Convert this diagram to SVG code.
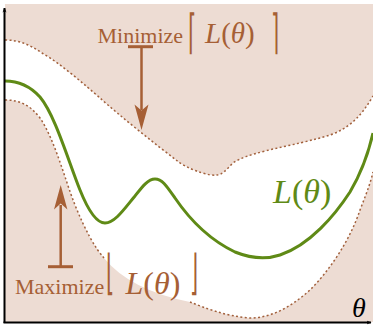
<svg xmlns="http://www.w3.org/2000/svg" width="373" height="329" viewBox="0 0 373 329">
<style>
.dot{fill:none;stroke:#a2603c;stroke-width:1.5;stroke-dasharray:2 2.4}
.lbl{fill:#a65f35;font-family:"Liberation Serif","Times New Roman",serif}
.it{font-style:italic}
.br{fill:#a65f35;font-family:"DejaVu Sans",sans-serif;font-size:30px;font-weight:200}
.arr{stroke:#a65f35;fill:none}
.head{fill:#a65f35}
.ax{stroke:#000;stroke-width:2;fill:none}
</style>
<defs>
<marker id="axhead" viewBox="0 0 10 10" refX="9" refY="5" markerWidth="5" markerHeight="5" orient="auto" markerUnits="userSpaceOnUse">
<path d="M0,1 L10,5 L0,9 L3,5 Z" fill="#000"/>
</marker>
</defs>
<rect width="373" height="329" fill="#fff"/>
<g id="band">
<rect x="5" y="4" width="368" height="318" fill="#eddcd3"/>
<path d="M5,40 C20,40 30,45 42,53 C60,63 85,85 100,98 C120,116 155,144 180,163 C195,172 210,176 217,175 C222,175 226,170 233,163 C240,158 250,155 265,151 C290,145 315,140 330,135 C350,128 362,115 373,96 L373,172 C370,185 365,197 360,210 C350,240 330,270 310,290 C290,308 270,318 250,318 C225,316 205,308 190,302 Q130,290 104,258 C95,248 85,230 75,205 C65,180 55,140 40,118 C30,105 20,100 5,100 Z" fill="#fff"/>
<path class="dot" d="M5,40 C20,40 30,45 42,53 C60,63 85,85 100,98 C120,116 155,144 180,163 C195,172 210,176 217,175 C222,175 226,170 233,163 C240,158 250,155 265,151 C290,145 315,140 330,135 C350,128 362,115 373,96"/>
<path class="dot" d="M5,100 C20,100 30,105 40,118 C55,140 65,180 75,205 C85,230 95,248 104,258"/>
<path class="dot" d="M190,302 C205,308 225,316 250,318 C270,318 290,308 310,290 C330,270 350,240 360,210 C365,197 370,185 373,172"/>
</g>
<g id="curve-L">
<path d="M5,81 C18,81 30,86 40,97 C55,115 68,160 80,190 C88,210 96,223 105,223 C115,223 125,208 135,196 C142,187 148,179 155,179 C162,179 166,185 175,198 C190,220 210,240 235,252 C250,258 265,260 280,255 C310,245 335,215 350,192 C360,175 368,155 373,133" fill="none" stroke="#5f8a16" stroke-width="3"/>
<text x="273" y="203" font-family="Liberation Serif,Times New Roman,serif" font-size="34" fill="#5f8a16"><tspan font-style="italic">L</tspan>(<tspan font-style="italic">θ</tspan>)</text>
</g>
<g id="label-min">
<text class="lbl" x="97.5" y="43.3" font-size="22">Minimize</text>
<text class="br" transform="translate(188,48) scale(0.7,1.55)">⌈</text>
<text class="lbl" x="205" y="43.3" font-size="29"><tspan class="it">L</tspan>(<tspan class="it">θ</tspan>)</text>
<text class="br" transform="translate(271,48) scale(0.7,1.55)">⌉</text>
</g>
<g id="label-max">
<text class="lbl" x="15" y="293.5" font-size="22">Maximize</text>
<text class="br" transform="translate(106,288.8) scale(0.7,1.6)">⌊</text>
<text class="lbl" x="125.5" y="293.5" font-size="32"><tspan class="it">L</tspan>(<tspan class="it">θ</tspan>)</text>
<text class="br" transform="translate(190,288.8) scale(0.7,1.6)">⌋</text>
</g>
<g id="axes">
<path class="ax" d="M4.5,323 L4.5,8" marker-end="url(#axhead)"/>
<path class="ax" d="M3.5,322.5 L371,322.5" marker-end="url(#axhead)"/>
<text x="352" y="316.5" font-family="Liberation Serif,Times New Roman,serif" font-size="28" font-style="italic" fill="#000">θ</text>
</g>
<g id="connectors">
<path class="arr" stroke-width="3" d="M128,46.7 H153"/>
<path class="arr" stroke-width="2.5" d="M141.5,47 V110"/>
<path class="head" d="M141.5,130 L134.5,104.5 L141.5,110.5 L148.5,104.5 Z"/>
<path class="arr" stroke-width="3" d="M48,266.7 H73"/>
<path class="arr" stroke-width="2.5" d="M60.7,266 V205"/>
<path class="head" d="M60.7,185 L54,209.5 L60.7,203.5 L67.4,209.5 Z"/>
</g>
</svg>
